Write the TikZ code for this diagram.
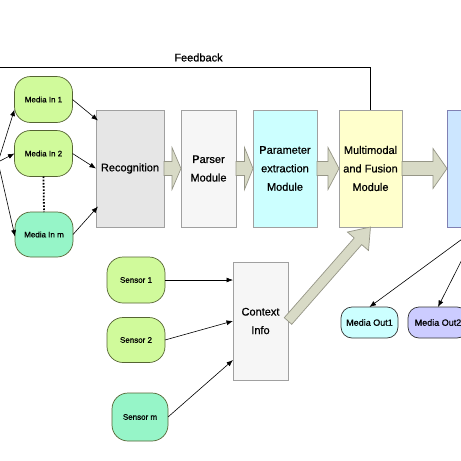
\documentclass[tikz,border=0pt]{standalone}
\usepackage{fontspec}
\setmainfont{Liberation Sans}[UprightFeatures={FakeBold=0.7}]
\usetikzlibrary{calc,arrows.meta}
\definecolor{pgreen}{RGB}{208,250,155}
\definecolor{pmint}{RGB}{150,245,200}
\definecolor{pline}{RGB}{85,100,50}
\definecolor{bline}{RGB}{160,160,160}
\definecolor{recfill}{RGB}{230,230,230}
\definecolor{parfill}{RGB}{246,246,246}
\definecolor{pemfill}{RGB}{204,255,255}
\definecolor{mfmfill}{RGB}{255,255,204}
\definecolor{rfill}{RGB}{204,230,255}
\definecolor{mo1fill}{RGB}{204,255,255}
\definecolor{mo2fill}{RGB}{204,204,255}
\definecolor{fatfill}{RGB}{216,218,198}
\definecolor{fatline}{RGB}{150,150,135}
\newcommand\fatarrow[5]{% start, end, head length, head half width, shaft half width
  \coordinate (fah) at ($(#2)!#3!(#1)$);
  \draw[fat] ($(#1)!#5!90:(#2)$) -- ($(fah)!#5!90:(#2)$) -- ($(fah)!#4!90:(#2)$)
    -- (#2) -- ($(fah)!#4!-90:(#2)$) -- ($(fah)!#5!-90:(#2)$) -- ($(#1)!#5!-90:(#2)$) -- cycle;
}
\begin{document}
\begin{tikzpicture}[x=1pt,y=-1pt,
  blk/.style={draw=bline, line width=0.8pt, inner sep=0pt, outer sep=0pt, align=center,
    minimum height=117pt, font=\fontsize{11}{18.5}\selectfont},
  pill/.style={draw=pline, line width=0.7pt, rounded corners=16pt, inner sep=0pt, outer sep=0pt,
    minimum width=58pt, font=\fontsize{8}{10}\selectfont},
  opill/.style={draw=black!80, line width=0.7pt, rounded corners=11pt, inner sep=0pt, outer sep=0pt,
    minimum height=31pt, font=\fontsize{9}{11}\selectfont},
  arr/.style={-{Latex[length=6.5pt,width=5pt]}, line width=0.6pt},
  fat/.style={draw=fatline, fill=fatfill, line width=0.7pt, line join=miter}]
\useasboundingbox (0,0) rectangle (461,461);
\clip (0,0) rectangle (461,461);
\fill[white] (0,0) rectangle (461,461);

% main chain
\node[blk, fill=recfill, minimum width=68pt] (rec) at (130,168.5) {Recognition};
\node[blk, fill=parfill, minimum width=55pt] (par) at (208.5,168.5) {Parser\\Module};
\node[blk, fill=pemfill, minimum width=64pt] (pem) at (285,168.5) {Parameter\\extraction\\Module};
\node[blk, fill=mfmfill, minimum width=63pt] (mfm) at (370.5,168.5) {Multimodal\\and Fusion\\Module};
\node[blk, fill=rfill, minimum width=63pt, draw=bline!80!blue] (rbox) at (478.5,168.5) {};
\node[blk, fill=parfill, minimum width=55pt, minimum height=118pt] (ctx) at (260.5,321) {Context\\Info};

% inputs
\node[pill, fill=pgreen, minimum height=46pt] (mi1) at (43.5,99.5) {Media In 1};
\node[pill, fill=pgreen, minimum height=46pt] (mi2) at (43.5,153.5) {Media In 2};
\node[pill, fill=pmint, minimum height=45pt] (mim) at (44,234.5) {Media In m};
\node[pill, fill=pgreen, minimum height=46pt] (s1) at (136,280) {Sensor 1};
\node[pill, fill=pgreen, minimum height=45pt] (s2) at (136,340) {Sensor 2};
\node[pill, fill=pmint, minimum height=48pt, minimum width=56pt] (sm) at (140,417) {Sensor m};

% outputs
\node[opill, fill=mo1fill, minimum width=57pt] (mo1) at (369.5,322.5) {Media Out1};
\node[opill, fill=mo2fill, minimum width=60pt] (mo2) at (438,322.5) {Media Out2};

% feedback
\coordinate (fbL) at (-5,67);
\draw[line width=0.8pt] (mfm.north) |- (fbL);
\node[font=\fontsize{11}{13}\selectfont, inner sep=0pt] (fb) at (198.5,57.5) {Feedback};

% left source arrows
\coordinate (src) at (-2,162);
\draw[arr] (src) -- ($(mi1.west)+(0,10)$);
\draw[arr] (src) -- (mi2.west);
\draw[arr] (src) -- ($(mim.west)+(0,2)$);

% dotted link
\draw[line width=1.8pt, dash pattern=on 1.6pt off 1.6pt] (mi2.south) -- (mim.north);

% media in -> recognition
\draw[arr] (mi1.east) -- ($(rec.west)+(2,-48)$);
\draw[arr] (mi2.east) -- (rec.west);
\draw[arr] (mim.east) -- ($(rec.west)+(2,38)$);

% sensors -> context
\draw[arr] (s1.east) -- (ctx.west |- s1.east);
\draw[arr] (s2.east) -- (ctx.west);
\draw[arr] (sm.east) -- ($(ctx.west)+(0,39)$);

% outputs
\draw[arr] (rbox.south) -- (mo1.north);
\draw[arr] (rbox.south) -- (mo2.north);

% block arrows
\fatarrow{rec.east}{par.west}{9pt}{21pt}{7pt}
\fatarrow{par.east}{pem.west}{8.5pt}{21pt}{7pt}
\fatarrow{pem.east}{mfm.west}{11pt}{21pt}{7pt}
\fatarrow{mfm.east}{rbox.west}{14pt}{20pt}{7pt}
\fatarrow{ctx.east}{mfm.south}{19pt}{14pt}{5pt}
\end{tikzpicture}
\end{document}
